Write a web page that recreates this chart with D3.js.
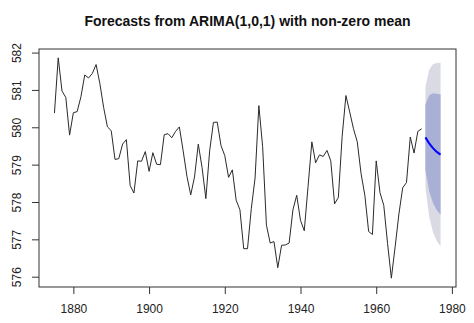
<!DOCTYPE html>
<html>
<head>
<meta charset="utf-8">
<script src="https://cdn.jsdelivr.net/npm/d3@7"></script>
<style>
  body { margin: 0; background: #fff; }
  svg { display: block; font-family: "Liberation Sans", Arial, sans-serif; }
</style>
</head>
<body>
<div id="chart"></div>
<script>
// Lake level series, 1875..1972
const startYear = 1875;
const levels = [
  580.38, 581.86, 580.97, 580.80, 579.79, 580.39, 580.42, 580.82, 581.40, 581.32,
  581.44, 581.68, 581.17, 580.53, 580.01, 579.91, 579.14, 579.16, 579.55, 579.67,
  578.44, 578.24, 579.10, 579.09, 579.35, 578.82, 579.32, 579.01, 579.00, 579.80,
  579.83, 579.72, 579.89, 580.01, 579.37, 578.69, 578.19, 578.67, 579.55, 578.92,
  578.09, 579.37, 580.13, 580.14, 579.51, 579.24, 578.66, 578.86, 578.05, 577.79,
  576.75, 576.75, 577.82, 578.64, 580.58, 579.48, 577.38, 576.90, 576.94, 576.24,
  576.84, 576.85, 576.90, 577.79, 578.18, 577.51, 577.23, 578.42, 579.61, 579.05,
  579.26, 579.22, 579.38, 579.10, 577.95, 578.12, 579.75, 580.85, 580.41, 579.96,
  579.61, 578.76, 578.18, 577.21, 577.13, 579.10, 578.25, 577.91, 576.89, 575.96,
  576.80, 577.68, 578.38, 578.52, 579.74, 579.31, 579.89, 579.96
];

// forecast 1973..1977
const fcYears = [1973, 1974, 1975, 1976, 1977];
const fcMean = [579.73, 579.57, 579.44, 579.34, 579.27];
const lo80 = [578.85, 578.28, 577.97, 577.78, 577.66];
const hi80 = [580.61, 580.86, 580.91, 580.90, 580.88];
const lo95 = [578.38, 577.60, 577.19, 576.96, 576.81];
const hi95 = [581.08, 581.54, 581.69, 581.72, 581.73];

const xTicks = [1880, 1900, 1920, 1940, 1960, 1980];
const yTicks = [576, 577, 578, 579, 580, 581, 582];

const width = 474, height = 323;
const margin = { top: 49, right: 18, bottom: 36, left: 39 };

const svg = d3.select("#chart").append("svg")
  .attr("width", width)
  .attr("height", height);

const x = d3.scaleLinear()
  .domain([1870.92, 1981.08])
  .range([margin.left, width - margin.right]);

const y = d3.scaleLinear()
  .domain([575.724, 582.096])
  .range([height - margin.bottom, margin.top]);

const hist = levels.map((v, i) => ({ t: startYear + i, v }));
const fc = fcYears.map((t, i) => ({ t, m: fcMean[i], l80: lo80[i], h80: hi80[i], l95: lo95[i], h95: hi95[i] }));

// shaded intervals
const band = (lo, hi) => d3.area()
  .x(d => x(d.t))
  .y0(d => y(d[lo]))
  .y1(d => y(d[hi]));

svg.append("path")
  .attr("d", band("l95", "h95")(fc))
  .attr("fill", "#dadae5");

svg.append("path")
  .attr("d", band("l80", "h80")(fc))
  .attr("fill", "#aab0d5");

const line = d3.line().x(d => x(d.t)).y(d => y(d.v));

svg.append("path")
  .datum(hist)
  .attr("d", line)
  .attr("fill", "none")
  .attr("stroke", "#2a2a2a")
  .attr("stroke-width", 1);

svg.append("path")
  .datum(fc)
  .attr("d", d3.line().x(d => x(d.t)).y(d => y(d.m)))
  .attr("fill", "none")
  .attr("stroke", "#0000ff")
  .attr("stroke-width", 2);

// box
svg.append("rect")
  .attr("x", margin.left)
  .attr("y", margin.top)
  .attr("width", width - margin.left - margin.right)
  .attr("height", height - margin.top - margin.bottom)
  .attr("fill", "none")
  .attr("stroke", "#333");

// x axis
const xa = svg.append("g")
  .attr("transform", `translate(0,${height - margin.bottom})`)
  .call(d3.axisBottom(x).tickValues(xTicks).tickSize(7).tickSizeOuter(0).tickFormat(d3.format("d")));
xa.select(".domain").remove();
xa.selectAll("line").attr("stroke", "#333");
xa.selectAll("text").attr("font-size", 12).attr("fill", "#222").attr("dy", "1.3em");

// y axis
const ya = svg.append("g")
  .attr("transform", `translate(${margin.left},0)`)
  .call(d3.axisLeft(y).tickValues(yTicks).tickSize(7).tickSizeOuter(0).tickFormat(d3.format("d")));
ya.select(".domain").remove();
ya.selectAll("line").attr("stroke", "#333");
ya.selectAll("text")
  .attr("font-size", 12)
  .attr("fill", "#222")
  .attr("x", null).attr("dy", null)
  .attr("text-anchor", "middle")
  .attr("transform", "translate(-18.5,0) rotate(-90)");

svg.append("text")
  .attr("x", (margin.left + width - margin.right) / 2)
  .attr("y", 26)
  .attr("text-anchor", "middle")
  .attr("font-size", 14)
  .attr("font-weight", "bold")
  .attr("fill", "#111")
  .text("Forecasts from ARIMA(1,0,1) with non-zero mean");
</script>
</body>
</html>
